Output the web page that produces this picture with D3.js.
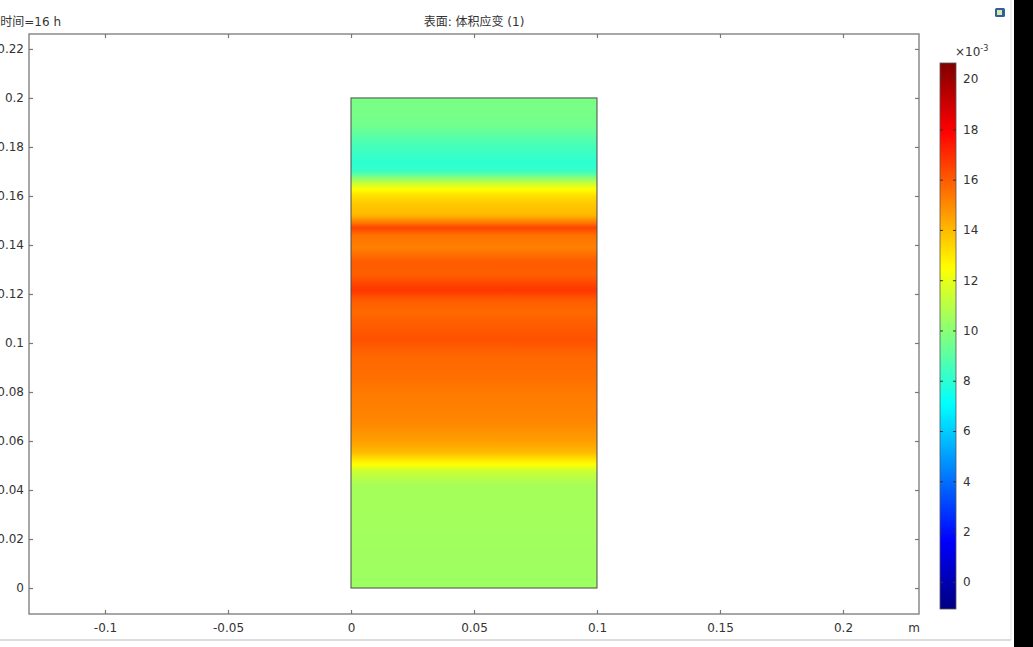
<!DOCTYPE html>
<html>
<head>
<meta charset="utf-8">
<script src="https://cdn.jsdelivr.net/npm/d3@7"></script>
<style>
  html, body { margin: 0; padding: 0; background: #fff; }
  svg { display: block; }
  text { font-family: "DejaVu Sans", "Noto Sans CJK SC", sans-serif; fill: #333; }
</style>
</head>
<body>
<svg id="chart" width="1033" height="647"></svg>
<script>
// ---------------- data ----------------
const titleLeft = "时间=16 h";
const titleCenter = "表面: 体积应变 (1)";
const xUnit = "m";
const xTicks = [-0.1, -0.05, 0, 0.05, 0.1, 0.15, 0.2];
const yTicks = [0, 0.02, 0.04, 0.06, 0.08, 0.1, 0.12, 0.14, 0.16, 0.18, 0.2, 0.22];
const xDomain = [-0.1309, 0.2309];
const yDomain = [-0.0106, 0.2261];
const domainX = [0, 0.1];   // geometry width (m)
const domainY = [0, 0.2];   // geometry height (m)
// volumetric strain profile along height (value x 1e-3)
const profileY = [0, 0.042, 0.0473, 0.0502, 0.0522, 0.0555, 0.0604, 0.0686, 0.0788, 0.0869, 0.0939, 0.1012, 0.1086, 0.1127, 0.1176, 0.1216, 0.128, 0.133, 0.1388, 0.144, 0.147, 0.1494, 0.1522, 0.1563, 0.160, 0.1633, 0.1665, 0.170, 0.1735, 0.181, 0.189, 0.2];
const profileV = [10.4, 10.6, 11.3, 12.4, 13.0, 14.0, 14.6, 15.1, 15.3, 15.6, 15.7, 16.2, 15.9, 15.7, 16.0, 16.8, 15.9, 16.0, 15.2, 15.5, 16.5, 15.2, 14.0, 13.7, 13.2, 12.3, 10.5, 8.3, 8.0, 8.6, 9.5, 9.7];
const cbTicks = [0, 2, 4, 6, 8, 10, 12, 14, 16, 18, 20];
const cbRange = [-1.08, 20.64];
const jetStops = [0, 0.125, 0.375, 0.625, 0.875, 1];
const jetColors = ["#000080", "#0000ff", "#00ffff", "#ffff00", "#ff0000", "#800000"];

// ---------------- layout ----------------
const svg = d3.select("#chart");
const plot = { left: 29, right: 919, top: 34, bottom: 614 };
const x = d3.scaleLinear().domain(xDomain).range([plot.left, plot.right]);
const y = d3.scaleLinear().domain(yDomain).range([plot.bottom, plot.top]);
const jet = d3.scaleLinear().domain(jetStops).range(jetColors).interpolate(d3.interpolateRgb);
const tOf = d3.scaleLinear().domain(cbRange).range([0, 1]).clamp(true);
const color = v => jet(tOf(v));
const profile = d3.scaleLinear().domain(profileY).range(profileV);

const defs = svg.append("defs");

// field gradient (vertical)
const g1 = defs.append("linearGradient").attr("id", "field")
  .attr("gradientUnits", "userSpaceOnUse")
  .attr("x1", 0).attr("x2", 0)
  .attr("y1", y(domainY[0])).attr("y2", y(domainY[1]));
const nStops = 400;
d3.range(nStops + 1).forEach(i => {
  const yy = domainY[0] + (domainY[1] - domainY[0]) * i / nStops;
  g1.append("stop").attr("offset", i / nStops).attr("stop-color", color(profile(yy)));
});

// colorbar gradient
const cb = { x: 940, w: 16, top: 63, bottom: 609 };
const cbY = d3.scaleLinear().domain(cbRange).range([cb.bottom, cb.top]);
const g2 = defs.append("linearGradient").attr("id", "cbgrad")
  .attr("x1", 0).attr("x2", 0).attr("y1", 1).attr("y2", 0);
d3.range(101).forEach(i => {
  const v = cbRange[0] + (cbRange[1] - cbRange[0]) * i / 100;
  g2.append("stop").attr("offset", i / 100).attr("stop-color", color(v));
});

// ---------------- window chrome ----------------
svg.append("rect").attr("x", 1014).attr("y", 0).attr("width", 19).attr("height", 647).attr("fill", "#000");
svg.append("line").attr("x1", 1011).attr("x2", 1011).attr("y1", 0).attr("y2", 640).attr("stroke", "#e2e2e2");
svg.append("line").attr("x1", 0).attr("x2", 1011).attr("y1", 640).attr("y2", 640).attr("stroke", "#dcdcdc").attr("stroke-width", 2);
// small icon
svg.append("rect").attr("x", 995).attr("y", 8).attr("width", 10).attr("height", 9).attr("rx", 1.5).attr("fill", "#2f5f9e");
svg.append("rect").attr("x", 997).attr("y", 10).attr("width", 5).attr("height", 5).attr("fill", "#d9e8a8");

// ---------------- plot ----------------
svg.append("rect")
  .attr("x", x(domainX[0])).attr("y", y(domainY[1]))
  .attr("width", x(domainX[1]) - x(domainX[0]))
  .attr("height", y(domainY[0]) - y(domainY[1]))
  .attr("fill", "url(#field)")
  .attr("stroke", "#4a4a4a").attr("stroke-width", 1);

// frame
svg.append("rect").attr("x", plot.left).attr("y", plot.top)
  .attr("width", plot.right - plot.left).attr("height", plot.bottom - plot.top)
  .attr("fill", "none").attr("stroke", "#8a8a8a").attr("stroke-width", 1.5);

const fmt = d => d === 0 ? "0" : String(+d.toFixed(2));

// axes: ticks inward on all four sides
const axB = svg.append("g").attr("transform", `translate(0,${plot.bottom})`)
  .call(d3.axisBottom(x).tickValues(xTicks).tickSize(-4).tickPadding(9).tickFormat(fmt));
const axT = svg.append("g").attr("transform", `translate(0,${plot.top})`)
  .call(d3.axisTop(x).tickValues(xTicks).tickSize(-4).tickFormat(""));
const axL = svg.append("g").attr("transform", `translate(${plot.left},0)`)
  .call(d3.axisLeft(y).tickValues(yTicks).tickSize(-4).tickPadding(5).tickFormat(fmt));
const axR = svg.append("g").attr("transform", `translate(${plot.right},0)`)
  .call(d3.axisRight(y).tickValues(yTicks).tickSize(-4).tickFormat(""));
[axB, axT, axL, axR].forEach(a => {
  a.select(".domain").remove();
  a.selectAll(".tick line").attr("stroke", "#777").attr("stroke-width", 1.2);
  a.selectAll("text").attr("font-size", 12).attr("fill", "#333")
    .style("font-family", "'DejaVu Sans', sans-serif");
});

svg.append("text").attr("x", 914).attr("y", 632).attr("text-anchor", "middle")
  .attr("font-size", 12).text(xUnit);

// titles
svg.append("text").attr("x", 61).attr("y", 26).attr("text-anchor", "end")
  .attr("font-size", 12).text(titleLeft);
svg.append("text").attr("x", (plot.left + plot.right) / 2).attr("y", 26).attr("text-anchor", "middle")
  .attr("font-size", 12).text(titleCenter);

// ---------------- colorbar ----------------
svg.append("rect").attr("x", cb.x).attr("y", cb.top).attr("width", cb.w).attr("height", cb.bottom - cb.top)
  .attr("fill", "url(#cbgrad)").attr("stroke", "#555").attr("stroke-width", 0.8);
const cbAxis = svg.append("g").attr("transform", `translate(${cb.x + cb.w},0)`)
  .call(d3.axisRight(cbY).tickValues(cbTicks).tickSize(-3).tickPadding(7));
cbAxis.select(".domain").remove();
cbAxis.selectAll(".tick line").attr("stroke", "#333");
cbAxis.selectAll("text").attr("font-size", 12).attr("fill", "#333")
  .style("font-family", "'DejaVu Sans', sans-serif");
svg.append("g").attr("transform", `translate(${cb.x},0)`)
  .call(d3.axisLeft(cbY).tickValues(cbTicks).tickSize(-3).tickFormat(""))
  .call(g => { g.select(".domain").remove(); g.selectAll(".tick line").attr("stroke", "#333"); });

const ex = svg.append("text").attr("x", 955).attr("y", 56).attr("font-size", 12);
ex.append("tspan").text("×10");
ex.append("tspan").attr("dy", -5).attr("font-size", 8).text("-3");
</script>
</body>
</html>
